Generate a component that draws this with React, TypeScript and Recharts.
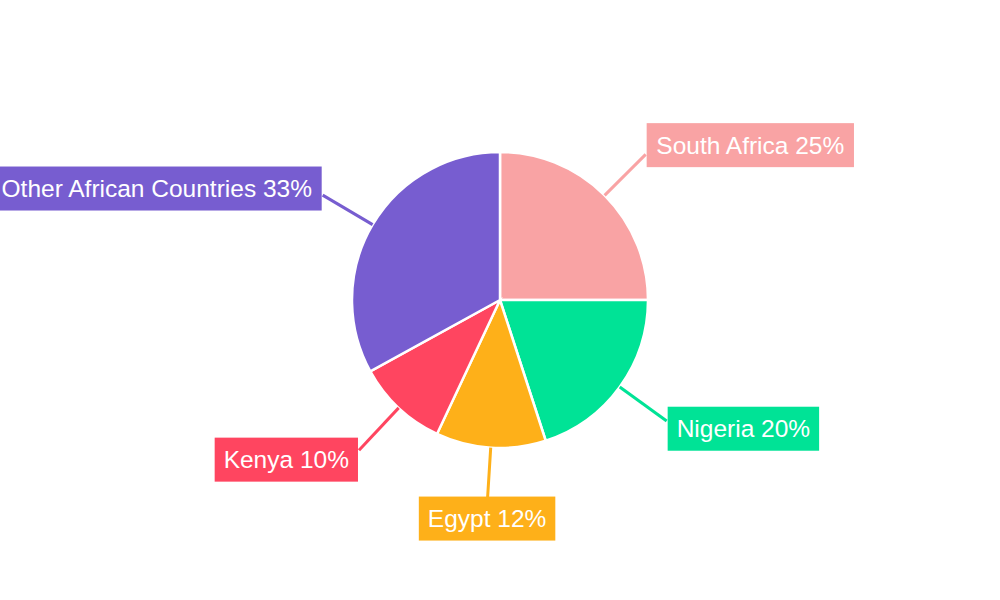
import { PieChart, Pie, Cell } from 'recharts';

const countries = ['South Africa', 'Nigeria', 'Egypt', 'Kenya', 'Other African Countries'];
const shares = [25, 20, 12, 10, 33];
const colors = ['#F9A3A4', '#00E396', '#FEB019', '#FF4560', '#775DD0'];

const data = countries.map((name, i) => ({ name, value: shares[i] }));

const FONT = "24.5px 'Liberation Sans', Arial, sans-serif";
const RAD = Math.PI / 180;

let ctx: CanvasRenderingContext2D | null = null;
const measure = (text: string) => {
  if (!ctx) ctx = document.createElement('canvas').getContext('2d');
  if (!ctx) return text.length * 12;
  ctx.font = FONT;
  return ctx.measureText(text).width;
};

const renderLabel = (props: any) => {
  const { cx, cy, midAngle, outerRadius, index, name, value } = props;
  const cos = Math.cos(-midAngle * RAD);
  const sin = Math.sin(-midAngle * RAD);
  const sx = cx + outerRadius * cos;
  const sy = cy + outerRadius * sin;
  const ex = cx + (outerRadius + 58) * cos;
  const ey = cy + (outerRadius + 58) * sin;

  const text = `${name} ${value}%`;
  const w = measure(text) + 18;
  const h = 44;
  const boxCy = ey + 13 * sin;
  let bx: number;
  if (cos > 0.2) bx = ex + 1;
  else if (cos < -0.2) bx = ex - 1 - w;
  else bx = ex - w / 2;
  const color = colors[index];

  return (
    <g>
      <line x1={sx} y1={sy} x2={ex} y2={ey} stroke={color} strokeWidth={3} />
      <rect x={bx} y={boxCy - h / 2} width={w} height={h} fill={color} />
      <text
        x={bx + w / 2}
        y={boxCy}
        fill="#fff"
        textAnchor="middle"
        dominantBaseline="central"
        style={{ font: FONT }}
      >
        {text}
      </text>
    </g>
  );
};

export default function App() {
  return (
    <div style={{ position: 'absolute', left: 0, top: 0, width: 1000, height: 600, background: '#fff' }}>
      <PieChart width={1000} height={600} margin={{ top: 0, right: 0, bottom: 0, left: 0 }}>
        <Pie
          data={data}
          dataKey="value"
          nameKey="name"
          cx={500}
          cy={300}
          outerRadius={148}
          startAngle={90}
          endAngle={-270}
          stroke="#fff"
          strokeWidth={2.5}
          label={renderLabel}
          labelLine={false}
          isAnimationActive={false}
        >
          {data.map((d, i) => (
            <Cell key={d.name} fill={colors[i]} />
          ))}
        </Pie>
      </PieChart>
    </div>
  );
}
